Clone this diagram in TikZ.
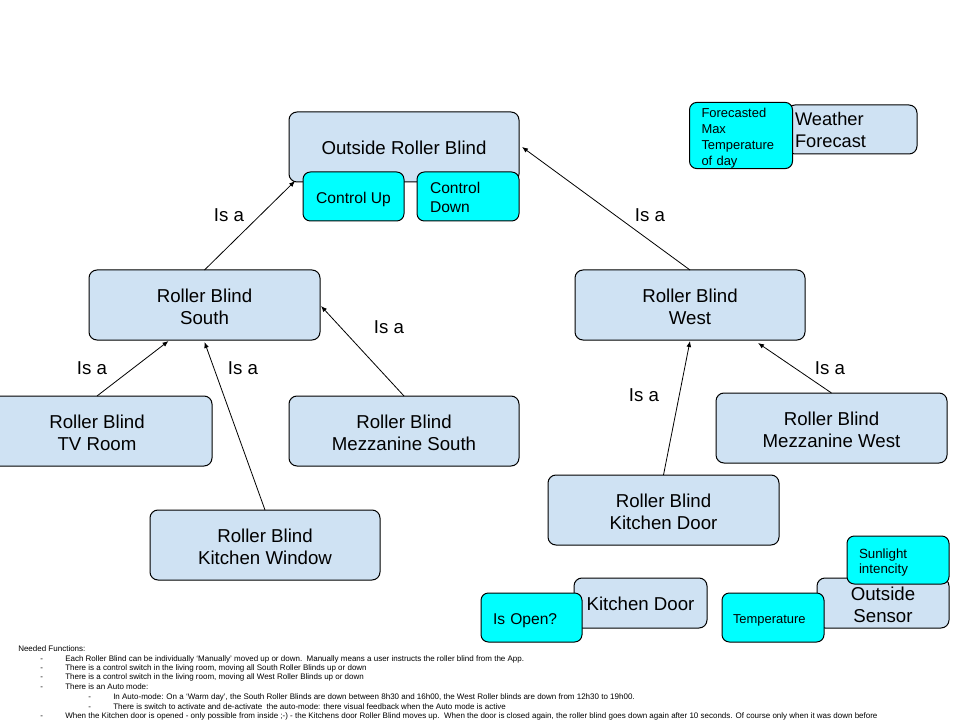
\documentclass[tikz,border=0pt]{standalone}
\usepackage{fontspec}
\setmainfont{Liberation Sans}
\usetikzlibrary{arrows.meta,calc}
\definecolor{lblue}{HTML}{CFE2F3}
\definecolor{aqua}{HTML}{00FFFF}
\newcommand{\myStrut}[1]{\rule{0pt}{#1}}
\begin{document}
\begin{tikzpicture}[x=0.75pt,y=-0.75pt,
  base/.style={draw=black, line width=0.75pt, rounded corners=6pt, inner sep=0pt, outer sep=0pt},
  wh/.style 2 args={minimum width=#1*0.75pt, minimum height=#2*0.75pt},
  bluebox/.style={base, fill=lblue, font=\fontsize{14}{16.5}\selectfont, align=center},
  aquabox/.style={base, fill=aqua, rounded corners=5.5pt},
  leftbox/.style={align=left, inner xsep=#1*0.75pt},
  isa/.style={font=\fontsize{14}{16.5}\selectfont, inner sep=0pt},
  conn/.style={line width=0.6pt, -{Latex[length=4.5pt,width=3.6pt]}},
  note/.style={anchor=west, inner sep=0pt, font=\fontsize{6}{7}\selectfont}
]
\useasboundingbox (0,0) rectangle (960,720);

% main blind hierarchy
\node[bluebox, wh={230}{70}] (orb) at (404,147) {\myStrut{11.7pt}Outside Roller Blind};
\node[aquabox, wh={101}{49}, font=\fontsize{11.7}{14.25}\selectfont] (cup) at (353.5,196.5) {\myStrut{13pt}Control Up};
\node[aquabox, wh={102}{49}, leftbox=13, text width=57pt, font=\fontsize{11.7}{14.25}\selectfont] (cdown) at (468,196.5) {\myStrut{10pt}Control\\Down};

\node[bluebox, wh={231}{70}] (south) at (204.5,305) {\myStrut{13.2pt}Roller Blind\\South};
\node[bluebox, wh={230}{70}] (west) at (690,305) {\myStrut{13.2pt}Roller Blind\\West};
\node[bluebox, wh={230}{70}] (tv) at (97,431) {\myStrut{13.2pt}Roller Blind\\TV Room};
\node[bluebox, wh={230}{70}] (mezzs) at (404,431) {\myStrut{13.2pt}Roller Blind\\Mezzanine South};
\node[bluebox, wh={230}{70}] (kwin) at (265,545) {\myStrut{13.2pt}Roller Blind\\Kitchen Window};
\node[bluebox, wh={231}{70}] (mezzw) at (831.5,428) {\myStrut{13.2pt}Roller Blind\\Mezzanine West};
\node[bluebox, wh={231}{70}] (kdoorrb) at (663.5,510) {\myStrut{13.2pt}Roller Blind\\Kitchen Door};

% weather forecast
\node[bluebox, wh={130}{49}, leftbox=8, text width=85.5pt, font=\fontsize{13.7}{16.5}\selectfont] (wf) at (852,129.5) {Weather\\Forecast};
\node[aquabox, wh={103}{63}, leftbox=12, text width=59.25pt, font=\fontsize{9.7}{12}\selectfont] (fmax) at (741,135.5) {\myStrut{11.6pt}Forecasted\\Max\\Temperature\\of day};

% kitchen door sensor
\node[bluebox, wh={133}{50}] (kdoor) at (640.5,603) {\myStrut{11.7pt}Kitchen Door};
\node[aquabox, wh={101}{49}, leftbox=12, text width=57.75pt, font=\fontsize{11.7}{14}\selectfont] (isopen) at (531.5,617.5) {\myStrut{13pt}Is Open?};

% outside sensor
\node[bluebox, wh={132}{50}, font=\fontsize{14}{16.5}\selectfont] (osensor) at (883,603) {\myStrut{13.2pt}Outside\\Sensor};
\node[aquabox, wh={102}{48}, leftbox=12, text width=58.5pt, font=\fontsize{10}{11.6}\selectfont] (sun) at (898,560) {\myStrut{11pt}Sunlight\\intencity};
\node[aquabox, wh={102}{49}, leftbox=11, text width=60pt, font=\fontsize{9.7}{12}\selectfont] (temp) at (773,617.5) {\myStrut{11.5pt}Temperature};

% connectors
\draw[conn] (south.north) -- ($(orb.south west)+(6,-1)$);
\draw[conn] (west.north) -- ($(orb.east)+(3,0)$);
\draw[conn] (tv.north) -- ($(south.south)+(-36,1)$);
\draw[conn] (kwin.north) -- ($(south.south)+(0,2)$);
\draw[conn] (mezzs.north) -- ($(south.east)+(1,1)$);
\draw[conn] (kdoorrb.north) -- ($(west.south)+(0,1)$);
\draw[conn] (mezzw.north) -- ($(west.south)+(68,3)$);

% labels
\node[isa] (l1) at (229,215.5) {Is a};
\node[isa] (l2) at (650,215.5) {Is a};
\node[isa] (l3) at (92,368.5) {Is a};
\node[isa] (l4) at (243,368.5) {Is a};
\node[isa] (l5) at (389,327) {Is a};
\node[isa] (l6) at (644,395) {Is a};
\node[isa] (l7) at (830,368.5) {Is a};

% notes
\node[note] (n0) at (18,649) {Needed Functions:};
\node[note] (n1) at (40,659) {\makebox[18.75pt][l]{-}Each Roller Blind can be individually ‘Manually’ moved up or down.\ \ Manually means a user instructs the roller blind from the App.};
\node[note] (n2) at (40,668) {\makebox[18.75pt][l]{-}There is a control switch in the living room, moving all South Roller Blinds up or down};
\node[note] (n3) at (40,677) {\makebox[18.75pt][l]{-}There is a control switch in the living room, moving all West Roller Blinds up or down};
\node[note] (n4) at (40,687) {\makebox[18.75pt][l]{-}There is an Auto mode:};
\node[note] (n5) at (88,697.5) {\makebox[18.75pt][l]{-}In Auto-mode: On a ‘Warm day’, the South Roller Blinds are down between 8h30 and 16h00, the West Roller blinds are down from 12h30 to 19h00.};
\node[note] (n6) at (88,706.5) {\makebox[18.75pt][l]{-}There is switch to activate and de-activate\ \ the auto-mode: there visual feedback when the Auto mode is active};
\node[note] (n7) at (40,716) {\makebox[18.75pt][l]{-}When the Kitchen door is opened - only possible from inside ;-) - the Kitchens door Roller Blind moves up.\ \ When the door is closed again, the roller blind goes down again after 10 seconds. Of course only when it was down before};
\end{tikzpicture}
\end{document}
